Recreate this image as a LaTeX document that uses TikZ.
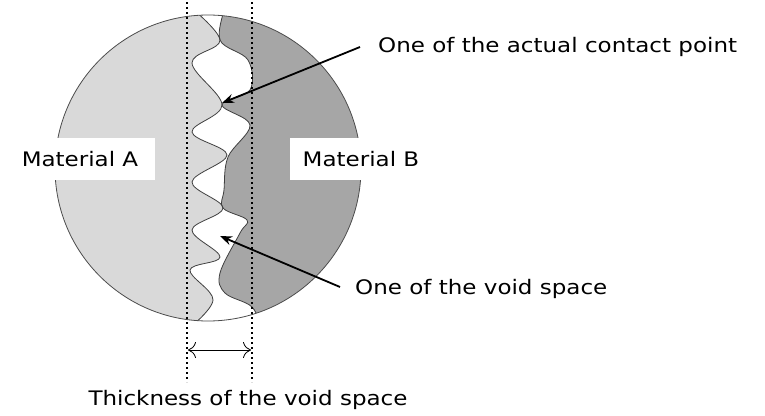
\documentclass[tikz,border=0pt]{standalone}
\usepackage{fontspec}
\setmainfont{DejaVu Sans}
\usetikzlibrary{arrows.meta}
\begin{document}
\begin{tikzpicture}[x=1pt,y=-1pt,
  lbl/.style={font=\fontsize{20}{22}\selectfont,inner sep=0pt,xscale=1.15},
  box/.style={fill=white,minimum width=150pt,minimum height=42pt},
  dot/.style={line width=2.2pt,dash pattern=on 2.2pt off 2.8pt},
  bnd/.style={draw=black!75,line width=0.8pt}]
\useasboundingbox (0,0) rectangle (765,415);
\coordinate (c) at (208,168);
\begin{scope}
\clip (c) circle (153);
\fill[white] (c) circle (153);
\fill[black!15] (0,0) -- plot[smooth,tension=0.6] coordinates {(188,5) (220,40) (192,63) (222,105) (192,132) (227,155) (192,182) (223,208) (192,230) (220,257) (190,270) (213,300) (187,330)} -- (0,330) -- cycle;
\fill[black!35] (420,0) -- plot[smooth,tension=0.6] coordinates {(226,5) (220,40) (248,60) (250,90) (222,105) (250,125) (228,157) (224,190) (223,208) (247,220) (240,233) (220,273) (225,293) (252,307) (262,330)} -- (420,330) -- cycle;
\draw[bnd] plot[smooth,tension=0.6] coordinates {(188,5) (220,40) (192,63) (222,105) (192,132) (227,155) (192,182) (223,208) (192,230) (220,257) (190,270) (213,300) (187,330)};
\draw[bnd] plot[smooth,tension=0.6] coordinates {(226,5) (220,40) (248,60) (250,90) (222,105) (250,125) (228,157) (224,190) (223,208) (247,220) (240,233) (220,273) (225,293) (252,307) (262,330)};
\end{scope}
\draw[black!70,line width=0.8pt] (c) circle (153);
\coordinate (t1) at (187,2); \coordinate (b1) at (187,382);
\coordinate (t2) at (252,2); \coordinate (b2) at (252,382);
\draw[dot] (t1) -- (b1);
\draw[dot] (t2) -- (b2);
\node[box] (mab) at (80,159) {};
\node[box,minimum width=142pt] (mbb) at (361,159) {};
\node[lbl] (ma) at (mab) {Material A};
\node[lbl] (mb) at (mbb) {Material B};
\node[lbl,anchor=west] (t) at (378,47) {One of the actual contact point};
\node[lbl,anchor=west] (v) at (355,289) {One of the void space};
\node[lbl] (th) at (248,400) {Thickness of the void space};
\coordinate (cp) at (222,103);
\coordinate (vp) at (220,236);
\coordinate (s1) at (360,47);
\coordinate (s2) at (340,287);
\coordinate (a1) at (188,350); \coordinate (a2) at (251,350);
\draw[line width=1.8pt,-{Stealth[length=12pt,width=9pt]}] (s1) -- (cp);
\draw[line width=1.8pt,-{Stealth[length=12pt,width=9pt]}] (s2) -- (vp);
\draw[line width=0.8pt,{To[length=8pt,width=16pt]}-{To[length=8pt,width=16pt]}] (a1) -- (a2);
\end{tikzpicture}
\end{document}
